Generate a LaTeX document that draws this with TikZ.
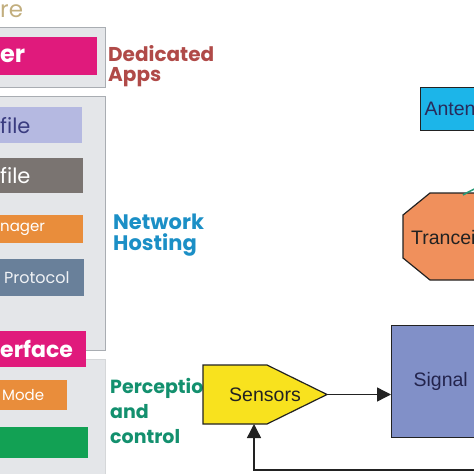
\documentclass[tikz,border=0pt]{standalone}
\usepackage{fontspec}
\setmainfont{Liberation Sans}
\newfontfamily\roundfont{Poppins}
\usetikzlibrary{arrows.meta, positioning}
\definecolor{groupFill}{HTML}{E4E6E9}
\definecolor{groupBorder}{HTML}{A9ADB2}
\definecolor{tileMagenta}{HTML}{E01A7C}
\definecolor{tileLavender}{HTML}{B5B9E1}
\definecolor{tileGray}{HTML}{7A7471}
\definecolor{tileOrange}{HTML}{E98D3B}
\definecolor{tileSlate}{HTML}{69809A}
\definecolor{tileGreen}{HTML}{12A154}
\definecolor{navyText}{HTML}{3A3C80}
\definecolor{appsRed}{HTML}{B04A48}
\definecolor{hostBlue}{HTML}{1B8FC6}
\definecolor{percGreen}{HTML}{13906E}
\definecolor{titleTan}{HTML}{C2AE7E}
\definecolor{antennaBlue}{HTML}{1CB5E9}
\definecolor{tranOrange}{HTML}{F0905C}
\definecolor{signalBlue}{HTML}{8190C8}
\definecolor{sensorYellow}{HTML}{F8E21E}
\definecolor{lineDark}{HTML}{222222}
\definecolor{linkGreen}{HTML}{2A9A78}
\newcommand\tilefont[2]{\roundfont\fontsize{#1}{#2}\selectfont}
\newcommand\blockfont{\fontsize{19.5}{22}\selectfont}

\begin{document}
\begin{tikzpicture}[x=1pt, y=-1pt,
		group/.style={draw=groupBorder, fill=groupFill, line width=0.8pt},
		tile/.style={anchor=north west, inner xsep=4pt, inner ysep=0pt, align=left},
		sidetext/.style={anchor=north west, inner sep=0pt, align=left},
		block/.style={draw=lineDark, line width=1.2pt, font=\blockfont},
		flow/.style={draw=lineDark, line width=1.4pt, -{Triangle[length=14pt, width=14pt]}}]
	\useasboundingbox (0,0) rectangle (474,474);
	\clip (0,0) rectangle (474,474);

	% left column
	\node[anchor=base west, inner sep=0pt, text=titleTan, font=\tilefont{23}{23}] (title) at (0,17) {re};

	\draw[group] (-5,27) rectangle (105,87);
	\draw[group] (-5,96) rectangle (105,350);
	\draw[group, draw=groupFill!85!gray] (-5,359) rectangle (105,490);

	\node[tile, fill=tileMagenta, text=white, text width=93pt, minimum height=38pt, font=\bfseries\tilefont{24}{24}] (apps) at (-4,37) {er};
	\node[tile, fill=tileLavender, text=navyText, text width=78pt, minimum height=36pt, font=\tilefont{21}{21}] (profile a) at (-4,107) {file};
	\node[tile, fill=tileGray, text=white, text width=79pt, minimum height=35pt, font=\tilefont{21}{21}] (profile b) at (-4,158) {file};
	\node[tile, fill=tileOrange, text=white, text width=79pt, minimum height=28pt, font=\tilefont{15}{15}] (manager) at (-4,215) {nager};
	\node[tile, fill=tileSlate, text=white!90!tileSlate, text width=76pt, minimum height=37pt, font=\tilefont{16}{16}] (protocol) at (0,259) {Protocol};
	\node[tile, fill=tileMagenta, text=white, text width=82pt, minimum height=36pt, font=\bfseries\tilefont{22}{22}] (interface) at (-4,331) {erface};
	\node[tile, fill=tileOrange, text=white, text width=61pt, minimum height=30pt, font=\tilefont{15}{15}] (mode) at (-2,380) {Mode};
	\node[tile, fill=tileGreen, text width=84pt, minimum height=31pt] (control tile) at (-4,427) {};

	\node[sidetext, text=appsRed, font=\bfseries\tilefont{20}{20}] (dedicated) at (108,45) {Dedicated\\Apps};
	\node[sidetext, text=hostBlue, font=\bfseries\tilefont{21}{21}] (hosting) at (113,214) {Network\\Hosting};
	\node[sidetext, text=percGreen, font=\bfseries\tilefont{19}{25}] (perception) at (110,378) {Perception\\and\\control};

	% right blocks
	\node[block, fill=antennaBlue, text=navyText!70!black, anchor=north west, minimum height=43pt, inner xsep=4pt] (antenna) at (420,87) {Antenna};

	\draw[block, fill=tranOrange] (403,215) -- (430,193) -- (520,193) -- (520,280) -- (430,280) -- (403,258) -- cycle;
	\node[anchor=base west, inner sep=0pt, font=\blockfont, text=lineDark] (tranceiver) at (411,244) {Tranceiver};
	\coordinate (link start) at (463,195);
	\draw[linkGreen, line width=1.6pt] (link start) to[out=30, in=200] (492,182);

	\node[block, fill=signalBlue, text=navyText!60!black, anchor=north west, minimum height=112pt, inner xsep=22pt] (signal) at (391,325) {Signal};

	\draw[block, fill=sensorYellow] (203,365) -- (267,365) -- (327,394.5) -- (267,424) -- (203,424) -- cycle;
	\node[font=\blockfont, text=lineDark] (sensors) at (265,394.5) {Sensors};
	\coordinate (sensors tip) at (327,394.5);
	\coordinate (sensors base) at (254,424);

	\draw[flow] (sensors tip) -- (sensors tip -| signal.west);
	\coordinate (loop end) at (490,470);
	\draw[flow] (loop end) -| (sensors base);
\end{tikzpicture}
\end{document}
